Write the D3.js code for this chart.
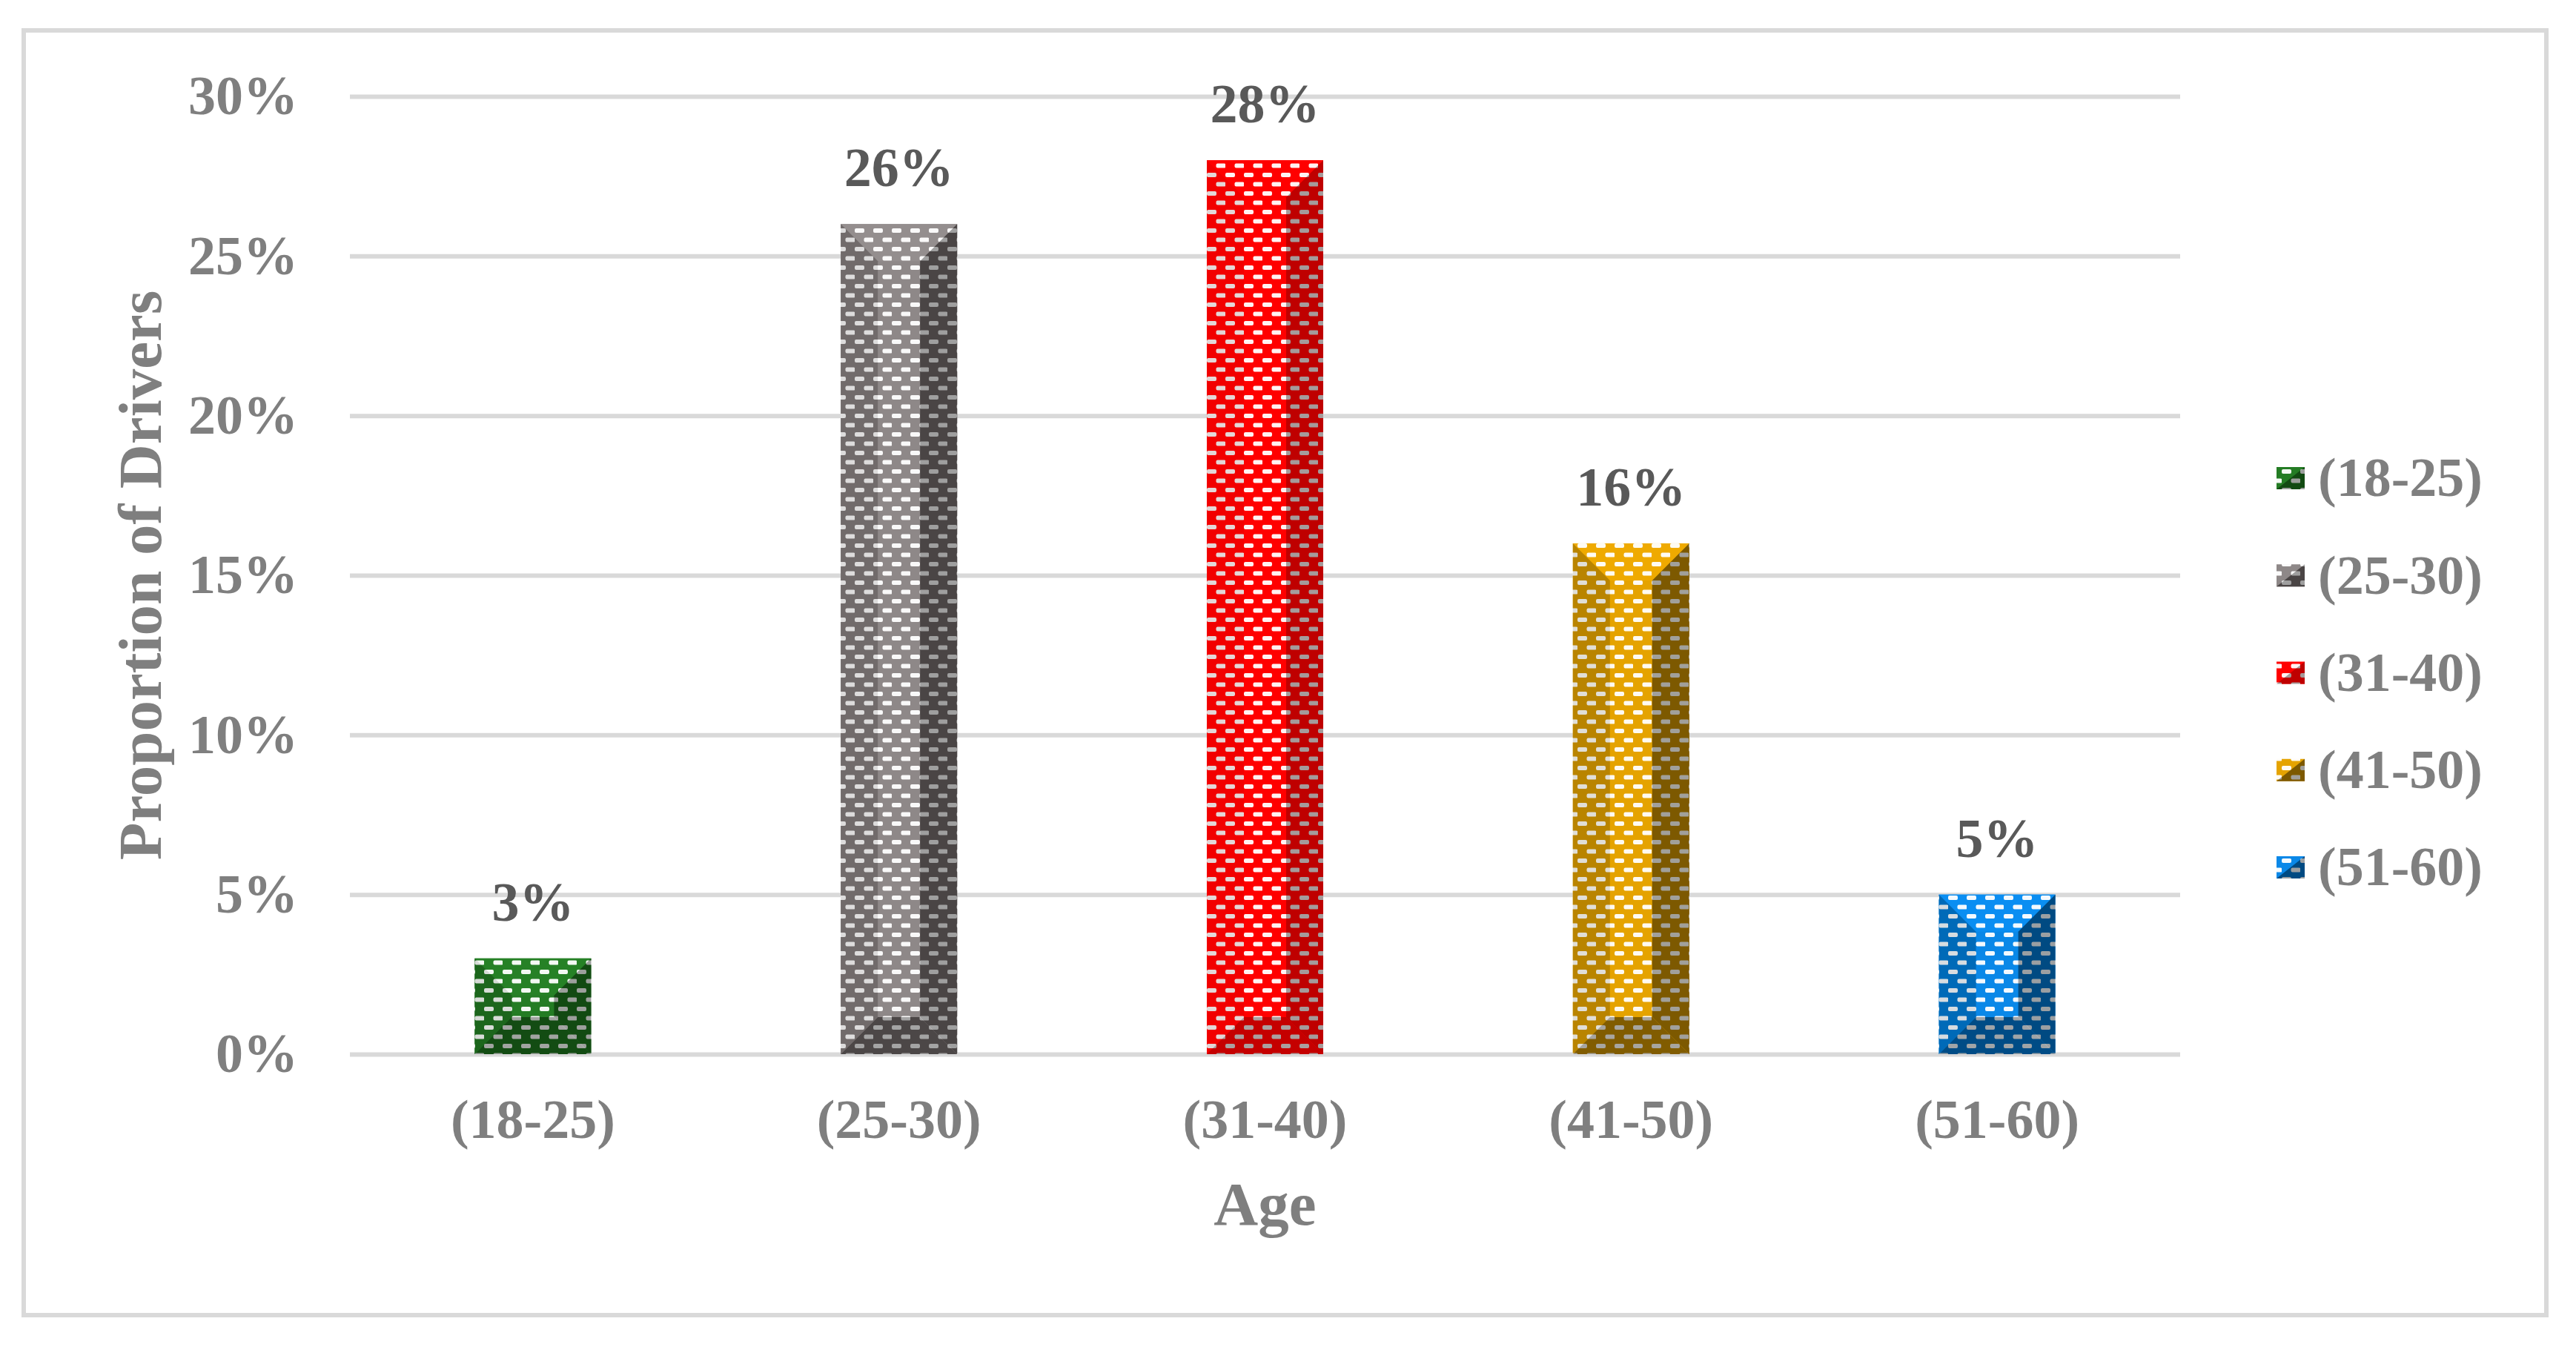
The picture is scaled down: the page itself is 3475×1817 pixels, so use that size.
<!DOCTYPE html>
<html><head><meta charset="utf-8">
<script src="https://cdn.jsdelivr.net/npm/d3@7"></script>
<style>html,body{margin:0;padding:0;background:#fff;} svg{display:block}</style>
</head><body>
<svg id="chart" width="3475" height="1817"></svg>
<script>
// ---- data ----
const categories = ["(18-25)", "(25-30)", "(31-40)", "(41-50)", "(51-60)"];
const values = [0.03, 0.26, 0.28, 0.16, 0.05];
const valueLabels = ["3%", "26%", "28%", "16%", "5%"];
const yTicks = [0, 0.05, 0.10, 0.15, 0.20, 0.25, 0.30];
const yTickLabels = ["0%", "5%", "10%", "15%", "20%", "25%", "30%"];
const yTitle = "Proportion of Drivers";
const xTitle = "Age";

// ---- palette (face / side / shadow per series) ----
const faceColors   = ["#247c24", "#8e8888", "#ff0000", "#e5a300", "#0a88e8"];
const sideColors   = ["#1c661c", "#716b6b", "#f20000", "#b98400", "#006ab8"];
const shadowColors = ["#124a12", "#4a4545", "#bf0000", "#7d5900", "#004a82"];

const W = 3475, H = 1817;
const margin = {left: 472, right: W - 2941, top: 130, bottom: H - 1422};
const svg = d3.select("#chart");
svg.append("rect").attr("width", W).attr("height", H).attr("fill", "#fff");

// outer border
svg.append("rect").attr("x", 32).attr("y", 41).attr("width", 3435 - 32).attr("height", 1774 - 41)
  .attr("fill", "none").attr("stroke", "#d9d9d9").attr("stroke-width", 6);

const x = d3.scaleBand().domain(categories).range([margin.left, W - margin.right])
  .paddingInner(0.682).paddingOuter(0.341);
const y = d3.scaleLinear().domain([0, 0.30]).range([H - margin.bottom, margin.top]);

const FONT = "'Liberation Serif','Times New Roman',serif";
const GRAY = "#7f7f7f";

// ---- patterns ----
const defs = svg.append("defs");
const regions = {
  face:   {col: i => faceColors[i], dash: "#ffffff"},
  top:    {col: i => d3.color(faceColors[i]).brighter(0.12).formatHex(), dash: "#ffffff"},
  side:   {col: i => sideColors[i], dash: "#e2e2e2"},
  right:  {col: i => shadowColors[i], dash: "#a3a3a3"},
  bottom: {col: i => d3.color(shadowColors[i]).brighter(0.08).formatHex(), dash: "#a8a8a8"}
};
categories.forEach((c, i) => {
  Object.entries(regions).forEach(([name, r]) => {
    const p = defs.append("pattern").attr("id", `pat-${i}-${name}`)
      .attr("patternUnits", "userSpaceOnUse").attr("width", 25).attr("height", 25)
      .attr("x", 3).attr("y", 8);
    p.append("rect").attr("width", 25).attr("height", 25).attr("fill", r.col(i));
    p.append("rect").attr("x", 0).attr("y", 0).attr("width", 13).attr("height", 6).attr("rx", 2)
      .attr("fill", r.dash).attr("opacity", 0.95);
    p.append("rect").attr("x", 12.5).attr("y", 12.5).attr("width", 13).attr("height", 6).attr("rx", 2)
      .attr("fill", r.dash).attr("opacity", 0.95);
  });
});

// ---- gridlines + y axis ----
const yAxis = d3.axisLeft(y).tickValues(yTicks).tickFormat((d, i) => yTickLabels[i])
  .tickSize(-(W - margin.left - margin.right)).tickPadding(70);
const gy = svg.append("g").attr("transform", `translate(${margin.left},0)`).call(yAxis);
gy.select(".domain").remove();
gy.selectAll(".tick line").attr("stroke", "#d9d9d9").attr("stroke-width", 6);
gy.selectAll(".tick text").attr("fill", GRAY).style("font-family", FONT)
  .style("font-weight", "bold").style("font-size", "74px");

// ---- x axis ----
const xAxis = d3.axisBottom(x).tickSize(0).tickPadding(60);
const gx = svg.append("g").attr("transform", `translate(0,${H - margin.bottom})`).call(xAxis);
gx.select(".domain").remove();
gx.selectAll(".tick text").attr("fill", GRAY).style("font-family", FONT)
  .style("font-weight", "bold").style("font-size", "74px");

// ---- bars with bevel ----
const bars = svg.append("g");
values.forEach((v, i) => {
  const x0 = x(categories[i]), x1 = x0 + x.bandwidth();
  const y0 = y(v), y1 = y(0);
  const b = Math.min(50, (x1 - x0) / 3, (y1 - y0) / 2.5);
  const g = bars.append("g");
  const poly = (pts, name) => g.append("polygon").attr("points", pts.map(p => p.join(",")).join(" "))
    .attr("fill", `url(#pat-${i}-${name})`);
  g.append("rect").attr("x", x0).attr("y", y0).attr("width", x1 - x0).attr("height", y1 - y0)
    .attr("fill", `url(#pat-${i}-face)`);
  poly([[x0, y0], [x1, y0], [x1 - b, y0 + b], [x0 + b, y0 + b]], "top");
  poly([[x0, y0], [x0 + b, y0 + b], [x0 + b, y1 - b], [x0, y1]], "side");
  poly([[x0, y1], [x1, y1], [x1 - b, y1 - b], [x0 + b, y1 - b]], "bottom");
  poly([[x1, y0], [x1 - b, y0 + b], [x1 - b, y1 - b], [x1, y1]], "right");
});

// ---- data labels ----
svg.append("g").selectAll("text").data(values).join("text")
  .attr("x", (d, i) => x(categories[i]) + x.bandwidth() / 2)
  .attr("y", d => y(d) - 51)
  .attr("text-anchor", "middle")
  .attr("fill", "#595959").style("font-family", FONT).style("font-weight", "bold").style("font-size", "74px")
  .text((d, i) => valueLabels[i]);

// ---- axis titles ----
svg.append("text").attr("x", (margin.left + W - margin.right) / 2).attr("y", 1652)
  .attr("text-anchor", "middle").attr("fill", GRAY)
  .style("font-family", FONT).style("font-weight", "bold").style("font-size", "83px").text(xTitle);
svg.append("text").attr("transform", `translate(217,${(margin.top + H - margin.bottom) / 2}) rotate(-90)`)
  .attr("text-anchor", "middle").attr("fill", GRAY)
  .style("font-family", FONT).style("font-weight", "bold").style("font-size", "83px").text(yTitle);

// ---- legend ----
const legY = d3.scalePoint().domain(categories).range([645, 1170]);
const leg = svg.append("g");
categories.forEach((c, i) => {
  const cy = legY(c);
  const lx0 = 3071, lx1 = 3109, ly0 = cy - 15, ly1 = cy + 15;
  leg.append("rect").attr("x", lx0).attr("y", ly0).attr("width", lx1 - lx0).attr("height", ly1 - ly0)
    .attr("fill", `url(#pat-${i}-face)`);
  leg.append("polygon").attr("points", `${lx1},${ly0} ${lx1},${ly1} ${lx0},${ly1}`)
    .attr("fill", `url(#pat-${i}-right)`);
  leg.append("text").attr("x", 3127).attr("y", cy).attr("dy", "0.33em")
    .attr("fill", GRAY).style("font-family", FONT).style("font-weight", "bold").style("font-size", "74px")
    .text(c);
});
</script>
</body></html>
